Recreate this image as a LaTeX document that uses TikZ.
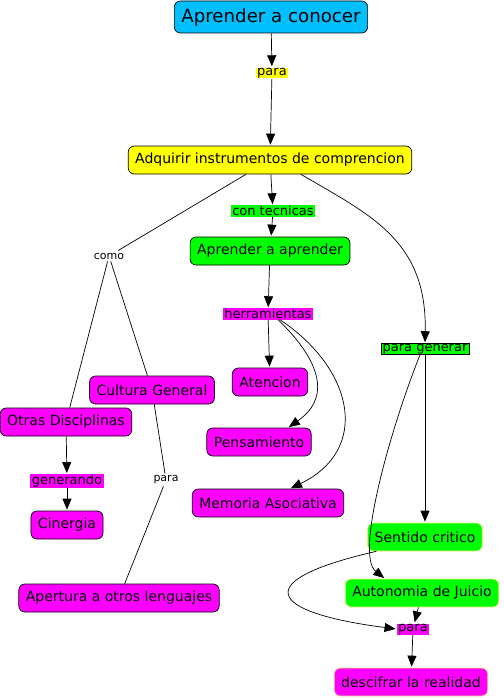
\documentclass[tikz,border=0pt]{standalone}
\usepackage{fontspec}
\setmainfont{DejaVu Sans}
\usetikzlibrary{arrows.meta}
\definecolor{cmcyan}{RGB}{0,191,255}
\definecolor{cmyellow}{RGB}{255,255,0}
\definecolor{cmgreen}{RGB}{0,255,0}
\definecolor{cmmagenta}{RGB}{255,0,255}
\definecolor{cmrim}{RGB}{240,240,120}
\begin{document}
\begin{tikzpicture}[x=1pt, y=-1pt,
	concept/.style={rectangle, rounded corners=6pt, draw=black, line width=0.7pt, minimum height=28pt, inner xsep=7pt, font=\fontsize{14}{16}\selectfont},
	linkword/.style={rectangle, inner xsep=1.5pt, inner ysep=0.5pt, font=\fontsize{13}{14}\selectfont},
	plainword/.style={inner sep=2pt, font=\fontsize{11}{12}\selectfont},
	arr/.style={-{Triangle[width=9pt, length=11pt]}, line width=0.7pt, shorten >=1pt},
	link/.style={line width=0.7pt}]

		\useasboundingbox (0,0) rectangle (503,698);

		\node[concept, fill=cmcyan, minimum height=32pt, font=\fontsize{18.2}{20}\selectfont] (conocer) at (271,17) {Aprender a conocer};
		\node[linkword, fill=cmyellow] (para1) at (272,73) {para};
		\node[concept, fill=cmyellow] (adquirir) at (270,160) {Adquirir instrumentos de comprencion};

		\node[linkword, fill=cmgreen] (tecnicas) at (273,211) {con tecnicas};
		\node[concept, fill=cmgreen] (aprender) at (270,251) {Aprender a aprender};
		\node[linkword, fill=cmmagenta] (herramientas) at (268,314) {herramientas};
		\node[concept, fill=cmmagenta] (atencion) at (270,382) {Atencion};
		\node[concept, fill=cmmagenta] (pensamiento) at (259,442) {Pensamiento};
		\node[concept, fill=cmmagenta] (memoria) at (268,503) {Memoria Asociativa};

		\node[plainword] (como) at (109,256) {como};
		\node[concept, fill=cmmagenta] (cultura) at (152,390) {Cultura General};
		\node[concept, fill=cmmagenta] (otras) at (66,422) {Otras Disciplinas};
		\node[linkword, fill=cmmagenta] (generando) at (67,481) {generando};
		\node[concept, fill=cmmagenta] (cinergia) at (67,525) {Cinergia};
		\node[plainword] (para3) at (166,480) {para};
		\node[concept, fill=cmmagenta] (apertura) at (119,598) {Apertura a otros lenguajes};

		\node[linkword, fill=cmgreen, draw=black, line width=0.6pt] (generar) at (425,349) {para generar};
		\node[concept, fill=cmgreen, draw=cmrim] (sentido) at (425,537) {Sentido critico};
		\node[concept, fill=cmgreen, draw=cmrim] (autonomia) at (422,593) {Autonomia de Juicio};
		\node[linkword, fill=cmmagenta] (para2) at (413,629) {para};
		\node[concept, fill=cmmagenta, draw=cmrim] (descifrar) at (411,682) {descifrar la realidad};

		\draw[arr] (conocer) -- (para1);
		\draw[arr] (para1) -- (adquirir);

		\draw[arr] (adquirir) -- (tecnicas);
		\draw[arr] (tecnicas) -- (aprender);
		\draw[arr] (aprender) -- (herramientas);
		\draw[arr] (herramientas) -- (atencion);
		\draw[arr] ([xshift=10pt]herramientas.south) .. controls (315,355) and (335,395) .. ([xshift=29pt]pensamiento.north);
		\draw[arr] ([xshift=12pt]herramientas.south) .. controls (355,370) and (370,450) .. ([xshift=22pt]memoria.north);

		\draw[link] (adquirir) -- (como);
		\draw[link] (como) -- (otras);
		\draw[link] (como) -- (cultura);
		\draw[arr] (otras) -- (generando);
		\draw[arr] (generando) -- (cinergia);
		\draw[link] (cultura) -- (para3);
		\draw[link] (para3) -- (apertura);

		\draw[arr] ([xshift=31pt]adquirir.south) .. controls (370,215) and (427,240) .. (generar.north);
		\draw[arr] (generar) -- (sentido);
		\draw[arr] ([xshift=-5pt]generar.south) .. controls (390,430) and (355,555) .. ([xshift=-37pt]autonomia.north);
		\draw[arr] ([xshift=9pt]sentido.south west) .. controls (250,580) and (265,612) .. (para2.west);
		\draw[arr] (autonomia) -- (para2);
		\draw[arr] (para2) -- (descifrar);

	\end{tikzpicture}
\end{document}
